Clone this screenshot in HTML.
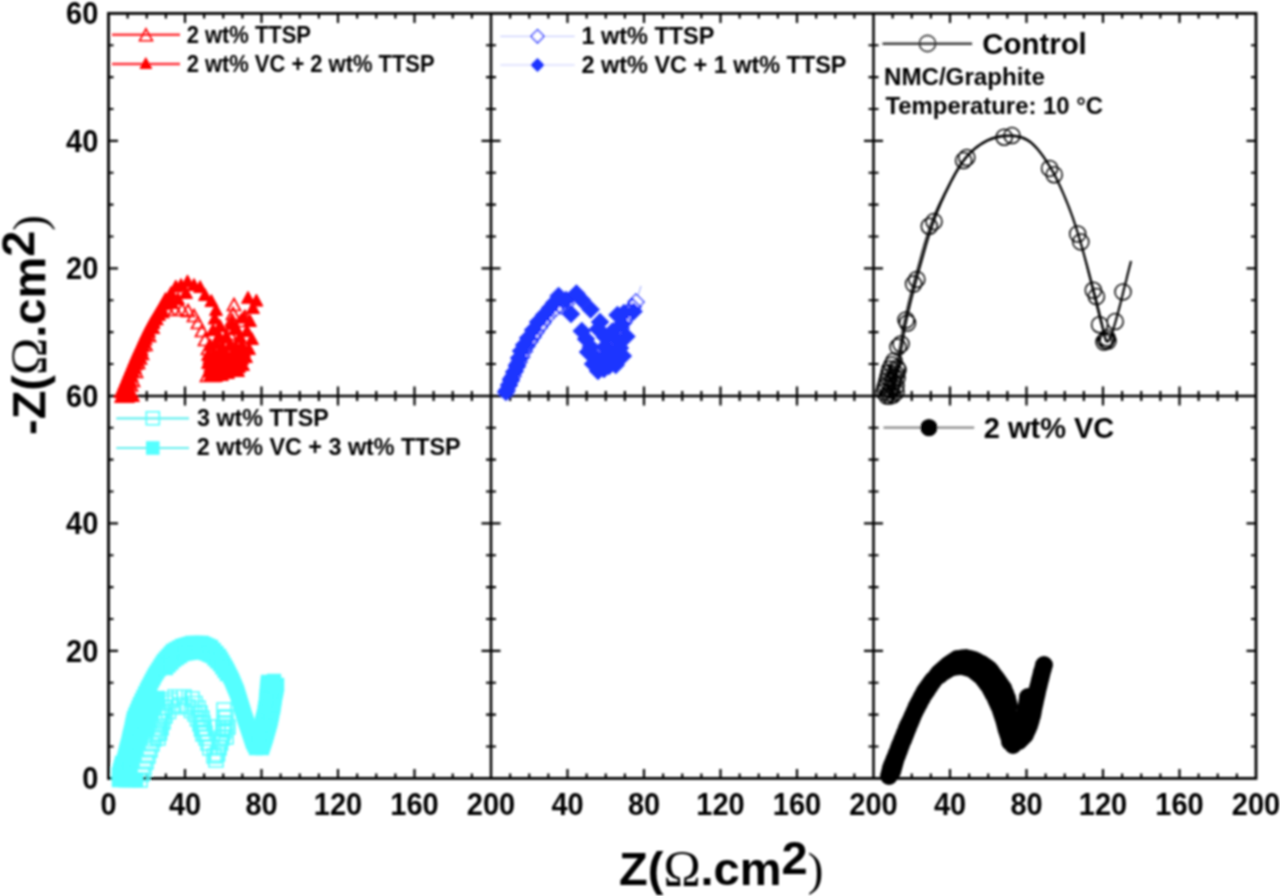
<!DOCTYPE html>
<html><head><meta charset="utf-8"><title>Nyquist plots</title>
<style>
html,body{margin:0;padding:0;background:#fff;width:1280px;height:896px;overflow:hidden}
svg{display:block}
text{font-family:"Liberation Sans",Arial,sans-serif;font-weight:bold;fill:#000}
.tl text{font-size:30.5px}
.sf{font-family:"Liberation Serif","Times New Roman",serif;font-weight:normal}
</style></head><body>
<svg width="1280" height="896" viewBox="0 0 1280 896">
<defs><filter id="bl" x="0" y="0" width="1280" height="896" filterUnits="userSpaceOnUse"><feGaussianBlur stdDeviation="0.8"/></filter></defs>
<rect width="1280" height="896" fill="#fff"/>
<g filter="url(#bl)">
<g><rect x="108.5" y="13.4" width="1147.5" height="765.0" fill="none" stroke="#000" stroke-width="2.8"/><line x1="491.0" y1="13.4" x2="491.0" y2="778.4" stroke="#000" stroke-width="2.5"/><line x1="873.5" y1="13.4" x2="873.5" y2="778.4" stroke="#000" stroke-width="2.5"/><line x1="108.5" y1="395.9" x2="1256.0" y2="395.9" stroke="#000" stroke-width="2.5"/><path d="M127.62,395.90v-5.0M127.62,13.40v5.0M146.75,395.90v-5.0M146.75,13.40v5.0M165.88,395.90v-5.0M165.88,13.40v5.0M185.00,395.90v-9.5M185.00,13.40v9.5M204.12,395.90v-5.0M204.12,13.40v5.0M223.25,395.90v-5.0M223.25,13.40v5.0M242.38,395.90v-5.0M242.38,13.40v5.0M261.50,395.90v-9.5M261.50,13.40v9.5M280.62,395.90v-5.0M280.62,13.40v5.0M299.75,395.90v-5.0M299.75,13.40v5.0M318.88,395.90v-5.0M318.88,13.40v5.0M338.00,395.90v-9.5M338.00,13.40v9.5M357.12,395.90v-5.0M357.12,13.40v5.0M376.25,395.90v-5.0M376.25,13.40v5.0M395.38,395.90v-5.0M395.38,13.40v5.0M414.50,395.90v-9.5M414.50,13.40v9.5M433.62,395.90v-5.0M433.62,13.40v5.0M452.75,395.90v-5.0M452.75,13.40v5.0M471.88,395.90v-5.0M471.88,13.40v5.0M108.50,364.02h5.0M491.00,364.02h-5.0M108.50,332.15h5.0M491.00,332.15h-5.0M108.50,300.27h5.0M491.00,300.27h-5.0M108.50,268.40h9.5M491.00,268.40h-9.5M108.50,236.52h5.0M491.00,236.52h-5.0M108.50,204.65h5.0M491.00,204.65h-5.0M108.50,172.77h5.0M491.00,172.77h-5.0M108.50,140.90h9.5M491.00,140.90h-9.5M108.50,109.02h5.0M491.00,109.02h-5.0M108.50,77.15h5.0M491.00,77.15h-5.0M108.50,45.27h5.0M491.00,45.27h-5.0M127.62,778.40v-5.0M127.62,395.90v5.0M146.75,778.40v-5.0M146.75,395.90v5.0M165.88,778.40v-5.0M165.88,395.90v5.0M185.00,778.40v-9.5M185.00,395.90v9.5M204.12,778.40v-5.0M204.12,395.90v5.0M223.25,778.40v-5.0M223.25,395.90v5.0M242.38,778.40v-5.0M242.38,395.90v5.0M261.50,778.40v-9.5M261.50,395.90v9.5M280.62,778.40v-5.0M280.62,395.90v5.0M299.75,778.40v-5.0M299.75,395.90v5.0M318.88,778.40v-5.0M318.88,395.90v5.0M338.00,778.40v-9.5M338.00,395.90v9.5M357.12,778.40v-5.0M357.12,395.90v5.0M376.25,778.40v-5.0M376.25,395.90v5.0M395.38,778.40v-5.0M395.38,395.90v5.0M414.50,778.40v-9.5M414.50,395.90v9.5M433.62,778.40v-5.0M433.62,395.90v5.0M452.75,778.40v-5.0M452.75,395.90v5.0M471.88,778.40v-5.0M471.88,395.90v5.0M108.50,746.52h5.0M491.00,746.52h-5.0M108.50,714.65h5.0M491.00,714.65h-5.0M108.50,682.77h5.0M491.00,682.77h-5.0M108.50,650.90h9.5M491.00,650.90h-9.5M108.50,619.02h5.0M491.00,619.02h-5.0M108.50,587.15h5.0M491.00,587.15h-5.0M108.50,555.27h5.0M491.00,555.27h-5.0M108.50,523.40h9.5M491.00,523.40h-9.5M108.50,491.52h5.0M491.00,491.52h-5.0M108.50,459.65h5.0M491.00,459.65h-5.0M108.50,427.77h5.0M491.00,427.77h-5.0M510.12,395.90v-5.0M510.12,13.40v5.0M529.25,395.90v-5.0M529.25,13.40v5.0M548.38,395.90v-5.0M548.38,13.40v5.0M567.50,395.90v-9.5M567.50,13.40v9.5M586.62,395.90v-5.0M586.62,13.40v5.0M605.75,395.90v-5.0M605.75,13.40v5.0M624.88,395.90v-5.0M624.88,13.40v5.0M644.00,395.90v-9.5M644.00,13.40v9.5M663.12,395.90v-5.0M663.12,13.40v5.0M682.25,395.90v-5.0M682.25,13.40v5.0M701.38,395.90v-5.0M701.38,13.40v5.0M720.50,395.90v-9.5M720.50,13.40v9.5M739.62,395.90v-5.0M739.62,13.40v5.0M758.75,395.90v-5.0M758.75,13.40v5.0M777.88,395.90v-5.0M777.88,13.40v5.0M797.00,395.90v-9.5M797.00,13.40v9.5M816.12,395.90v-5.0M816.12,13.40v5.0M835.25,395.90v-5.0M835.25,13.40v5.0M854.38,395.90v-5.0M854.38,13.40v5.0M491.00,364.02h5.0M873.50,364.02h-5.0M491.00,332.15h5.0M873.50,332.15h-5.0M491.00,300.27h5.0M873.50,300.27h-5.0M491.00,268.40h9.5M873.50,268.40h-9.5M491.00,236.52h5.0M873.50,236.52h-5.0M491.00,204.65h5.0M873.50,204.65h-5.0M491.00,172.77h5.0M873.50,172.77h-5.0M491.00,140.90h9.5M873.50,140.90h-9.5M491.00,109.02h5.0M873.50,109.02h-5.0M491.00,77.15h5.0M873.50,77.15h-5.0M491.00,45.27h5.0M873.50,45.27h-5.0M510.12,778.40v-5.0M510.12,395.90v5.0M529.25,778.40v-5.0M529.25,395.90v5.0M548.38,778.40v-5.0M548.38,395.90v5.0M567.50,778.40v-9.5M567.50,395.90v9.5M586.62,778.40v-5.0M586.62,395.90v5.0M605.75,778.40v-5.0M605.75,395.90v5.0M624.88,778.40v-5.0M624.88,395.90v5.0M644.00,778.40v-9.5M644.00,395.90v9.5M663.12,778.40v-5.0M663.12,395.90v5.0M682.25,778.40v-5.0M682.25,395.90v5.0M701.38,778.40v-5.0M701.38,395.90v5.0M720.50,778.40v-9.5M720.50,395.90v9.5M739.62,778.40v-5.0M739.62,395.90v5.0M758.75,778.40v-5.0M758.75,395.90v5.0M777.88,778.40v-5.0M777.88,395.90v5.0M797.00,778.40v-9.5M797.00,395.90v9.5M816.12,778.40v-5.0M816.12,395.90v5.0M835.25,778.40v-5.0M835.25,395.90v5.0M854.38,778.40v-5.0M854.38,395.90v5.0M491.00,746.52h5.0M873.50,746.52h-5.0M491.00,714.65h5.0M873.50,714.65h-5.0M491.00,682.77h5.0M873.50,682.77h-5.0M491.00,650.90h9.5M873.50,650.90h-9.5M491.00,619.02h5.0M873.50,619.02h-5.0M491.00,587.15h5.0M873.50,587.15h-5.0M491.00,555.27h5.0M873.50,555.27h-5.0M491.00,523.40h9.5M873.50,523.40h-9.5M491.00,491.52h5.0M873.50,491.52h-5.0M491.00,459.65h5.0M873.50,459.65h-5.0M491.00,427.77h5.0M873.50,427.77h-5.0M892.62,395.90v-5.0M892.62,13.40v5.0M911.75,395.90v-5.0M911.75,13.40v5.0M930.88,395.90v-5.0M930.88,13.40v5.0M950.00,395.90v-9.5M950.00,13.40v9.5M969.12,395.90v-5.0M969.12,13.40v5.0M988.25,395.90v-5.0M988.25,13.40v5.0M1007.38,395.90v-5.0M1007.38,13.40v5.0M1026.50,395.90v-9.5M1026.50,13.40v9.5M1045.62,395.90v-5.0M1045.62,13.40v5.0M1064.75,395.90v-5.0M1064.75,13.40v5.0M1083.88,395.90v-5.0M1083.88,13.40v5.0M1103.00,395.90v-9.5M1103.00,13.40v9.5M1122.12,395.90v-5.0M1122.12,13.40v5.0M1141.25,395.90v-5.0M1141.25,13.40v5.0M1160.38,395.90v-5.0M1160.38,13.40v5.0M1179.50,395.90v-9.5M1179.50,13.40v9.5M1198.62,395.90v-5.0M1198.62,13.40v5.0M1217.75,395.90v-5.0M1217.75,13.40v5.0M1236.88,395.90v-5.0M1236.88,13.40v5.0M873.50,364.02h5.0M1256.00,364.02h-5.0M873.50,332.15h5.0M1256.00,332.15h-5.0M873.50,300.27h5.0M1256.00,300.27h-5.0M873.50,268.40h9.5M1256.00,268.40h-9.5M873.50,236.52h5.0M1256.00,236.52h-5.0M873.50,204.65h5.0M1256.00,204.65h-5.0M873.50,172.77h5.0M1256.00,172.77h-5.0M873.50,140.90h9.5M1256.00,140.90h-9.5M873.50,109.02h5.0M1256.00,109.02h-5.0M873.50,77.15h5.0M1256.00,77.15h-5.0M873.50,45.27h5.0M1256.00,45.27h-5.0M892.62,778.40v-5.0M892.62,395.90v5.0M911.75,778.40v-5.0M911.75,395.90v5.0M930.88,778.40v-5.0M930.88,395.90v5.0M950.00,778.40v-9.5M950.00,395.90v9.5M969.12,778.40v-5.0M969.12,395.90v5.0M988.25,778.40v-5.0M988.25,395.90v5.0M1007.38,778.40v-5.0M1007.38,395.90v5.0M1026.50,778.40v-9.5M1026.50,395.90v9.5M1045.62,778.40v-5.0M1045.62,395.90v5.0M1064.75,778.40v-5.0M1064.75,395.90v5.0M1083.88,778.40v-5.0M1083.88,395.90v5.0M1103.00,778.40v-9.5M1103.00,395.90v9.5M1122.12,778.40v-5.0M1122.12,395.90v5.0M1141.25,778.40v-5.0M1141.25,395.90v5.0M1160.38,778.40v-5.0M1160.38,395.90v5.0M1179.50,778.40v-9.5M1179.50,395.90v9.5M1198.62,778.40v-5.0M1198.62,395.90v5.0M1217.75,778.40v-5.0M1217.75,395.90v5.0M1236.88,778.40v-5.0M1236.88,395.90v5.0M873.50,746.52h5.0M1256.00,746.52h-5.0M873.50,714.65h5.0M1256.00,714.65h-5.0M873.50,682.77h5.0M1256.00,682.77h-5.0M873.50,650.90h9.5M1256.00,650.90h-9.5M873.50,619.02h5.0M1256.00,619.02h-5.0M873.50,587.15h5.0M1256.00,587.15h-5.0M873.50,555.27h5.0M1256.00,555.27h-5.0M873.50,523.40h9.5M1256.00,523.40h-9.5M873.50,491.52h5.0M1256.00,491.52h-5.0M873.50,459.65h5.0M1256.00,459.65h-5.0M873.50,427.77h5.0M1256.00,427.77h-5.0" stroke="#000" stroke-width="2.2" fill="none"/></g>
<g><path d="M129.0,383.5L135.5,395.5L122.5,395.5ZM131.0,379.0L137.5,391.0L124.5,391.0ZM133.0,374.5L139.5,386.5L126.5,386.5ZM136.0,365.5L142.5,377.5L129.5,377.5ZM138.0,356.5L144.5,368.5L131.5,368.5ZM140.0,352.0L146.5,364.0L133.5,364.0ZM142.0,347.5L148.5,359.5L135.5,359.5ZM145.5,338.5L152.0,350.5L139.0,350.5ZM149.0,329.5L155.5,341.5L142.5,341.5ZM152.5,321.1L159.0,333.1L146.0,333.1ZM156.0,312.5L162.5,324.5L149.5,324.5ZM162.0,305.5L168.5,317.5L155.5,317.5ZM168.0,303.5L174.5,315.5L161.5,315.5ZM175.0,303.5L181.5,315.5L168.5,315.5ZM182.0,303.5L188.5,315.5L175.5,315.5ZM188.0,304.5L194.5,316.5L181.5,316.5ZM194.0,309.5L200.5,321.5L187.5,321.5ZM198.0,316.5L204.5,328.5L191.5,328.5ZM202.0,324.5L208.5,336.5L195.5,336.5ZM205.0,333.5L211.5,345.5L198.5,345.5ZM208.0,342.5L214.5,354.5L201.5,354.5ZM210.0,351.5L216.5,363.5L203.5,363.5ZM211.0,359.5L217.5,371.5L204.5,371.5ZM212.0,364.5L218.5,376.5L205.5,376.5ZM213.0,369.5L219.5,381.5L206.5,381.5ZM207.0,369.5L213.5,381.5L200.5,381.5ZM213.0,367.5L219.5,379.5L206.5,379.5ZM219.0,360.5L225.5,372.5L212.5,372.5ZM221.5,354.0L228.0,366.0L215.0,366.0ZM224.0,347.5L230.5,359.5L217.5,359.5ZM226.0,341.0L232.5,353.0L219.5,353.0ZM228.0,334.5L234.5,346.5L221.5,346.5ZM229.5,327.5L236.0,339.5L223.0,339.5ZM231.0,320.5L237.5,332.5L224.5,332.5ZM232.0,314.0L238.5,326.0L225.5,326.0ZM233.0,307.5L239.5,319.5L226.5,319.5ZM234.0,298.5L240.5,310.5L227.5,310.5ZM236.0,322.5L242.5,334.5L229.5,334.5ZM241.0,314.5L247.5,326.5L234.5,326.5ZM245.0,310.5L251.5,322.5L238.5,322.5Z" fill="none" stroke="#ff0000" stroke-width="1.7" stroke-linejoin="miter" /><path d="M121.0,385.5L127.5,397.5L114.5,397.5ZM122.7,381.5L129.2,393.5L116.2,393.5ZM124.3,377.5L130.8,389.5L117.8,389.5ZM126.0,373.5L132.5,385.5L119.5,385.5ZM127.7,369.5L134.2,381.5L121.2,381.5ZM129.3,365.5L135.8,377.5L122.8,377.5ZM131.0,361.5L137.5,373.5L124.5,373.5ZM132.7,357.5L139.2,369.5L126.2,369.5ZM134.3,353.5L140.8,365.5L127.8,365.5ZM136.0,349.5L142.5,361.5L129.5,361.5ZM137.7,345.8L144.2,357.8L131.2,357.8ZM139.3,342.2L145.8,354.2L132.8,354.2ZM141.0,338.5L147.5,350.5L134.5,350.5ZM142.7,334.8L149.2,346.8L136.2,346.8ZM144.3,331.2L150.8,343.2L137.8,343.2ZM146.0,327.5L152.5,339.5L139.5,339.5ZM147.7,324.2L154.2,336.2L141.2,336.2ZM149.3,320.8L155.8,332.8L142.8,332.8ZM151.0,317.5L157.5,329.5L144.5,329.5ZM153.0,314.2L159.5,326.2L146.5,326.2ZM155.0,310.8L161.5,322.8L148.5,322.8ZM157.0,307.5L163.5,319.5L150.5,319.5ZM159.0,304.2L165.5,316.2L152.5,316.2ZM161.0,300.8L167.5,312.8L154.5,312.8ZM163.0,297.5L169.5,309.5L156.5,309.5ZM166.0,294.0L172.5,306.0L159.5,306.0ZM169.0,290.5L175.5,302.5L162.5,302.5ZM126.0,385.5L132.5,397.5L119.5,397.5ZM127.3,381.5L133.8,393.5L120.8,393.5ZM128.7,377.5L135.2,389.5L122.2,389.5ZM130.0,373.5L136.5,385.5L123.5,385.5ZM131.7,369.5L138.2,381.5L125.2,381.5ZM133.3,365.5L139.8,377.5L126.8,377.5ZM135.0,361.5L141.5,373.5L128.5,373.5ZM136.3,357.8L142.8,369.8L129.8,369.8ZM137.7,354.2L144.2,366.2L131.2,366.2ZM139.0,350.5L145.5,362.5L132.5,362.5ZM140.3,346.8L146.8,358.8L133.8,358.8ZM141.7,343.2L148.2,355.2L135.2,355.2ZM143.0,339.5L149.5,351.5L136.5,351.5ZM144.3,336.2L150.8,348.2L137.8,348.2ZM145.7,332.8L152.2,344.8L139.2,344.8ZM147.0,329.5L153.5,341.5L140.5,341.5ZM149.0,325.0L155.5,337.0L142.5,337.0ZM151.0,320.5L157.5,332.5L144.5,332.5ZM153.5,316.5L160.0,328.5L147.0,328.5ZM156.0,312.5L162.5,324.5L149.5,324.5ZM159.0,308.5L165.5,320.5L152.5,320.5ZM162.0,304.5L168.5,316.5L155.5,316.5Z" fill="#ff0000" stroke="#ff0000" stroke-width="1.0" stroke-linejoin="miter" /><path d="M121.0,390.5L127.5,402.5L114.5,402.5ZM128.0,390.5L134.5,402.5L121.5,402.5ZM133.0,389.5L139.5,401.5L126.5,401.5ZM165.5,292.5L172.0,304.5L159.0,304.5ZM171.0,286.5L177.5,298.5L164.5,298.5ZM175.8,280.0L182.3,292.0L169.3,292.0ZM181.0,278.5L187.5,290.5L174.5,290.5ZM187.5,274.9L194.0,286.9L181.0,286.9ZM194.0,278.5L200.5,290.5L187.5,290.5ZM200.1,280.5L206.6,292.5L193.6,292.5ZM205.0,288.5L211.5,300.5L198.5,300.5ZM211.4,294.5L217.9,306.5L204.9,306.5ZM216.0,303.5L222.5,315.5L209.5,315.5ZM214.7,312.0L221.2,324.0L208.2,324.0ZM220.0,319.5L226.5,331.5L213.5,331.5ZM172.0,296.5L178.5,308.5L165.5,308.5ZM178.0,292.5L184.5,304.5L171.5,304.5ZM186.0,286.5L192.5,298.5L179.5,298.5ZM248.0,291.3L254.5,303.3L241.5,303.3ZM256.4,294.1L262.9,306.1L249.9,306.1ZM253.0,301.5L259.5,313.5L246.5,313.5ZM243.7,311.0L250.2,323.0L237.2,323.0ZM250.0,314.5L256.5,326.5L243.5,326.5ZM247.0,324.5L253.5,336.5L240.5,336.5ZM252.0,332.5L258.5,344.5L245.5,344.5ZM249.0,342.5L255.5,354.5L242.5,354.5ZM246.0,350.5L252.5,362.5L239.5,362.5ZM243.0,358.5L249.5,370.5L236.5,370.5ZM238.0,364.5L244.5,376.5L231.5,376.5ZM232.0,316.5L238.5,328.5L225.5,328.5ZM236.0,322.5L242.5,334.5L229.5,334.5ZM226.0,330.5L232.5,342.5L219.5,342.5ZM240.0,330.5L246.5,342.5L233.5,342.5ZM210.0,338.5L216.5,350.5L203.5,350.5ZM216.0,336.5L222.5,348.5L209.5,348.5ZM222.0,340.5L228.5,352.5L215.5,352.5ZM230.0,338.5L236.5,350.5L223.5,350.5ZM236.0,340.5L242.5,352.5L229.5,352.5ZM242.0,338.5L248.5,350.5L235.5,350.5ZM208.0,348.5L214.5,360.5L201.5,360.5ZM214.0,346.5L220.5,358.5L207.5,358.5ZM220.0,349.5L226.5,361.5L213.5,361.5ZM226.0,347.5L232.5,359.5L219.5,359.5ZM232.0,348.5L238.5,360.5L225.5,360.5ZM238.0,346.5L244.5,358.5L231.5,358.5ZM244.0,344.5L250.5,356.5L237.5,356.5ZM208.0,356.5L214.5,368.5L201.5,368.5ZM214.0,354.5L220.5,366.5L207.5,366.5ZM220.0,357.5L226.5,369.5L213.5,369.5ZM226.0,354.5L232.5,366.5L219.5,366.5ZM232.0,356.5L238.5,368.5L225.5,368.5ZM238.0,354.5L244.5,366.5L231.5,366.5ZM242.0,352.5L248.5,364.5L235.5,364.5ZM209.0,364.5L215.5,376.5L202.5,376.5ZM215.0,363.5L221.5,375.5L208.5,375.5ZM221.0,365.5L227.5,377.5L214.5,377.5ZM227.0,361.5L233.5,373.5L220.5,373.5ZM233.0,362.5L239.5,374.5L226.5,374.5ZM239.0,360.5L245.5,372.5L232.5,372.5ZM210.0,369.5L216.5,381.5L203.5,381.5ZM216.0,369.5L222.5,381.5L209.5,381.5ZM222.0,368.5L228.5,380.5L215.5,380.5ZM228.0,366.5L234.5,378.5L221.5,378.5ZM234.0,364.5L240.5,376.5L227.5,376.5ZM213.0,323.5L219.5,335.5L206.5,335.5ZM219.0,329.5L225.5,341.5L212.5,341.5Z" fill="#ff0000" stroke="#ff0000" stroke-width="1"/><polyline points="636,302 641,286" fill="none" stroke="#a8b2ff" stroke-width="1.2"/><path d="M507.0,382.0L515.0,390.0L507.0,398.0L499.0,390.0ZM509.0,377.3L517.0,385.3L509.0,393.3L501.0,385.3ZM511.0,372.7L519.0,380.7L511.0,388.7L503.0,380.7ZM513.0,368.0L521.0,376.0L513.0,384.0L505.0,376.0ZM515.0,363.3L523.0,371.3L515.0,379.3L507.0,371.3ZM517.0,358.7L525.0,366.7L517.0,374.7L509.0,366.7ZM519.0,354.0L527.0,362.0L519.0,370.0L511.0,362.0ZM521.7,348.7L529.7,356.7L521.7,364.7L513.7,356.7ZM524.3,343.3L532.3,351.3L524.3,359.3L516.3,351.3ZM527.0,338.0L535.0,346.0L527.0,354.0L519.0,346.0ZM530.0,333.3L538.0,341.3L530.0,349.3L522.0,341.3ZM533.0,328.7L541.0,336.7L533.0,344.7L525.0,336.7ZM536.0,324.0L544.0,332.0L536.0,340.0L528.0,332.0ZM539.3,319.3L547.3,327.3L539.3,335.3L531.3,327.3ZM542.7,314.7L550.7,322.7L542.7,330.7L534.7,322.7ZM546.0,310.0L554.0,318.0L546.0,326.0L538.0,318.0ZM551.0,305.0L559.0,313.0L551.0,321.0L543.0,313.0ZM556.0,300.0L564.0,308.0L556.0,316.0L548.0,308.0ZM561.0,298.0L569.0,306.0L561.0,314.0L553.0,306.0ZM566.0,296.0L574.0,304.0L566.0,312.0L558.0,304.0ZM600.0,350.0L608.0,358.0L600.0,366.0L592.0,358.0ZM606.0,348.0L614.0,356.0L606.0,364.0L598.0,356.0ZM609.0,343.0L617.0,351.0L609.0,359.0L601.0,351.0ZM612.0,338.0L620.0,346.0L612.0,354.0L604.0,346.0ZM615.0,332.0L623.0,340.0L615.0,348.0L607.0,340.0ZM618.0,326.0L626.0,334.0L618.0,342.0L610.0,334.0ZM621.0,320.0L629.0,328.0L621.0,336.0L613.0,328.0ZM624.0,314.0L632.0,322.0L624.0,330.0L616.0,322.0ZM627.0,309.0L635.0,317.0L627.0,325.0L619.0,317.0ZM630.0,304.0L638.0,312.0L630.0,320.0L622.0,312.0ZM633.0,299.0L641.0,307.0L633.0,315.0L625.0,307.0ZM636.0,294.0L644.0,302.0L636.0,310.0L628.0,302.0Z" fill="white" stroke="#1f34ff" stroke-width="1.5" stroke-linejoin="miter" /><path d="M506.0,383.0L515.0,392.0L506.0,401.0L497.0,392.0ZM509.0,376.0L518.0,385.0L509.0,394.0L500.0,385.0ZM511.0,370.0L520.0,379.0L511.0,388.0L502.0,379.0ZM514.0,363.0L523.0,372.0L514.0,381.0L505.0,372.0ZM517.0,356.0L526.0,365.0L517.0,374.0L508.0,365.0ZM519.0,349.0L528.0,358.0L519.0,367.0L510.0,358.0ZM521.0,342.0L530.0,351.0L521.0,360.0L512.0,351.0ZM524.0,336.0L533.0,345.0L524.0,354.0L515.0,345.0ZM528.0,329.0L537.0,338.0L528.0,347.0L519.0,338.0ZM533.0,321.0L542.0,330.0L533.0,339.0L524.0,330.0ZM538.0,313.0L547.0,322.0L538.0,331.0L529.0,322.0ZM544.0,306.0L553.0,315.0L544.0,324.0L535.0,315.0ZM550.0,299.0L559.0,308.0L550.0,317.0L541.0,308.0ZM554.0,294.0L563.0,303.0L554.0,312.0L545.0,303.0ZM558.6,287.0L567.6,296.0L558.6,305.0L549.6,296.0ZM566.0,291.0L575.0,300.0L566.0,309.0L557.0,300.0ZM571.0,305.0L580.0,314.0L571.0,323.0L562.0,314.0ZM576.4,284.6L585.4,293.6L576.4,302.6L567.4,293.6ZM582.0,291.0L591.0,300.0L582.0,309.0L573.0,300.0ZM590.7,300.6L599.7,309.6L590.7,318.6L581.7,309.6ZM600.0,313.0L609.0,322.0L600.0,331.0L591.0,322.0ZM581.8,322.0L590.8,331.0L581.8,340.0L572.8,331.0ZM586.0,330.0L595.0,339.0L586.0,348.0L577.0,339.0ZM590.7,338.0L599.7,347.0L590.7,356.0L581.7,347.0ZM594.0,347.0L603.0,356.0L594.0,365.0L585.0,356.0ZM597.9,356.0L606.9,365.0L597.9,374.0L588.9,365.0ZM598.0,362.0L607.0,371.0L598.0,380.0L589.0,371.0ZM604.0,360.0L613.0,369.0L604.0,378.0L595.0,369.0ZM609.0,357.0L618.0,366.0L609.0,375.0L600.0,366.0ZM604.7,338.0L613.7,347.0L604.7,356.0L595.7,347.0ZM598.0,320.0L607.0,329.0L598.0,338.0L589.0,329.0ZM605.0,328.0L614.0,337.0L605.0,346.0L596.0,337.0ZM612.5,322.4L621.5,331.4L612.5,340.4L603.5,331.4ZM617.0,331.0L626.0,340.0L617.0,349.0L608.0,340.0ZM620.0,339.0L629.0,348.0L620.0,357.0L611.0,348.0ZM615.7,356.0L624.7,365.0L615.7,374.0L606.7,365.0ZM622.9,347.0L631.9,356.0L622.9,365.0L613.9,356.0ZM626.4,327.4L635.4,336.4L626.4,345.4L617.4,336.4ZM617.5,306.0L626.5,315.0L617.5,324.0L608.5,315.0ZM624.0,304.0L633.0,313.0L624.0,322.0L615.0,313.0ZM633.6,302.4L642.6,311.4L633.6,320.4L624.6,311.4ZM622.0,315.0L631.0,324.0L622.0,333.0L613.0,324.0ZM611.0,347.0L620.0,356.0L611.0,365.0L602.0,356.0ZM603.0,349.0L612.0,358.0L603.0,367.0L594.0,358.0ZM593.0,355.0L602.0,364.0L593.0,373.0L584.0,364.0ZM588.0,343.0L597.0,352.0L588.0,361.0L579.0,352.0Z" fill="#1f34ff" stroke="#1f34ff" stroke-width="0.5"/><polyline points="892.0,397.0 892.3,395.7 892.7,394.0 893.3,391.9 893.8,389.6 894.4,387.2 895.0,384.7 895.5,382.3 896.0,380.0 896.4,377.8 896.8,375.5 897.2,373.3 897.6,371.0 897.9,368.7 898.3,366.5 898.6,364.2 899.0,362.0 899.4,359.9 899.7,357.8 900.1,355.8 900.4,353.8 900.8,351.8 901.2,349.6 901.6,347.4 902.0,345.0 902.4,342.5 902.8,340.1 903.2,337.6 903.6,335.0 904.0,332.2 904.6,329.2 905.2,325.8 906.0,322.0 906.9,317.8 907.9,313.3 909.0,308.6 910.2,303.5 911.5,298.2 912.9,292.7 914.4,286.9 916.0,281.0 917.7,274.7 919.6,267.8 921.6,260.6 923.7,253.2 925.8,245.8 927.9,238.7 930.0,232.1 932.0,226.0 933.9,220.6 935.8,215.5 937.6,210.9 939.4,206.5 941.2,202.3 943.1,198.2 945.0,194.1 947.0,190.0 949.1,185.8 951.2,181.6 953.4,177.4 955.7,173.3 958.0,169.4 960.3,165.6 962.6,162.2 965.0,159.0 967.4,156.1 969.8,153.5 972.2,151.1 974.7,148.9 977.2,147.0 979.7,145.1 982.3,143.5 985.0,142.0 987.7,140.6 990.6,139.4 993.4,138.4 996.4,137.6 999.3,136.9 1002.2,136.4 1005.2,136.1 1008.0,136.0 1010.8,136.0 1013.6,136.2 1016.4,136.5 1019.2,137.1 1021.9,137.8 1024.7,138.9 1027.4,140.3 1030.0,142.0 1032.6,144.2 1035.2,146.7 1037.8,149.6 1040.4,152.8 1042.9,156.2 1045.3,159.7 1047.7,163.4 1050.0,167.0 1052.2,170.7 1054.4,174.6 1056.4,178.6 1058.4,182.8 1060.4,187.0 1062.3,191.3 1064.2,195.6 1066.0,200.0 1067.8,204.3 1069.4,208.5 1071.0,212.8 1072.6,217.1 1074.1,221.6 1075.7,226.4 1077.3,231.5 1079.0,237.0 1080.8,243.2 1082.8,250.1 1084.8,257.5 1086.9,265.1 1088.9,272.6 1090.8,279.7 1092.5,286.3 1094.0,292.0 1095.3,296.8 1096.4,301.1 1097.3,304.8 1098.1,308.2 1098.9,311.3 1099.6,314.2 1100.3,317.1 1101.0,320.0 1101.7,323.0 1102.4,326.1 1103.1,329.1 1103.7,331.9 1104.3,334.5 1104.9,336.7 1105.4,338.6 1106.0,340.0 1106.5,340.9 1107.0,341.4 1107.5,341.6 1107.9,341.4 1108.4,340.9 1108.9,340.1 1109.4,339.2 1110.0,338.0 1110.6,336.6 1111.3,334.8 1112.1,332.8 1112.8,330.6 1113.6,328.1 1114.4,325.5 1115.2,322.8 1116.0,320.0 1116.8,317.1 1117.7,314.0 1118.5,310.8 1119.4,307.4 1120.3,303.9 1121.2,300.3 1122.1,296.7 1123.0,293.0 1124.0,289.0 1125.1,284.6 1126.3,280.0 1127.4,275.3 1128.5,270.9 1129.5,266.9 1130.4,263.5 1131.0,261.0" fill="none" stroke="#000" stroke-width="2.2" stroke-linejoin="round"/><polyline points="890.0,397.0 890.3,395.7 890.7,394.0 891.3,391.9 891.8,389.6 892.4,387.2 893.0,384.7 893.5,382.3 894.0,380.0 894.4,377.8 894.8,375.5 895.2,373.3 895.6,371.0 895.9,368.7 896.3,366.5 896.6,364.2 897.0,362.0 897.4,359.9 897.7,357.8 898.1,355.8 898.4,353.8 898.8,351.8 899.2,349.6 899.6,347.4 900.0,345.0 900.4,342.5 900.8,340.1 901.2,337.6 901.6,335.0 902.0,332.2 902.6,329.2 903.2,325.8 904.0,322.0 904.9,317.8 905.9,313.3 907.0,308.6 908.2,303.5 909.5,298.2 910.9,292.7 912.4,286.9 914.0,281.0 915.7,274.7 917.6,267.8 919.6,260.6 921.6,253.2 923.7,245.8 925.9,238.7 928.0,232.1 930.0,226.0 932.0,220.6 934.0,215.5 935.9,210.9 937.9,206.5 939.9,202.3 941.9,198.2 943.9,194.1 946.0,190.0 948.1,185.8 950.3,181.6 952.5,177.4 954.7,173.4 956.9,169.5 959.2,165.7 961.6,162.2 964.0,159.0 966.5,156.0 969.0,153.3 971.6,150.8 974.2,148.4 976.8,146.3 979.5,144.4 982.3,142.6 985.0,141.0 987.8,139.6 990.6,138.4 993.5,137.3 996.4,136.5 999.4,135.8 1002.3,135.4 1005.2,135.1 1008.0,135.0 1010.8,135.0 1013.6,135.2 1016.4,135.5 1019.2,136.1 1021.9,136.8 1024.7,137.9 1027.4,139.3 1030.0,141.0 1032.6,143.2 1035.2,145.7 1037.8,148.6 1040.4,151.8 1042.9,155.1 1045.3,158.7 1047.7,162.3 1050.0,166.0 1052.2,169.8 1054.4,173.8 1056.4,178.0 1058.4,182.2 1060.4,186.6 1062.3,191.1 1064.2,195.5 1066.0,200.0 1067.8,204.4 1069.4,208.6 1071.1,212.9 1072.6,217.2 1074.2,221.7 1075.8,226.4 1077.3,231.5 1079.0,237.0 1080.8,243.2 1082.6,250.1 1084.5,257.5 1086.4,265.1 1088.2,272.6 1090.0,279.7 1091.6,286.3 1093.0,292.0 1094.2,296.8 1095.3,301.0 1096.2,304.7 1097.0,308.1 1097.8,311.1 1098.5,314.1 1099.2,317.0 1100.0,320.0 1100.8,323.2 1101.7,326.4 1102.6,329.7 1103.4,332.8 1104.2,335.6 1104.9,338.2 1105.5,340.3 1106.0,342.0" fill="none" stroke="#000" stroke-width="1.2" stroke-linejoin="round"/><path d="M879.0,396.0a8,8 0 1,0 16,0a8,8 0 1,0 -16,0ZM882.0,396.0a8,8 0 1,0 16,0a8,8 0 1,0 -16,0ZM885.0,395.0a8,8 0 1,0 16,0a8,8 0 1,0 -16,0ZM881.0,393.0a8,8 0 1,0 16,0a8,8 0 1,0 -16,0ZM888.0,392.0a8,8 0 1,0 16,0a8,8 0 1,0 -16,0ZM876.0,392.0a8,8 0 1,0 16,0a8,8 0 1,0 -16,0ZM877.0,388.0a8,8 0 1,0 16,0a8,8 0 1,0 -16,0ZM878.0,385.0a8,8 0 1,0 16,0a8,8 0 1,0 -16,0ZM879.0,381.0a8,8 0 1,0 16,0a8,8 0 1,0 -16,0ZM880.0,377.0a8,8 0 1,0 16,0a8,8 0 1,0 -16,0ZM881.0,373.0a8,8 0 1,0 16,0a8,8 0 1,0 -16,0ZM882.0,369.0a8,8 0 1,0 16,0a8,8 0 1,0 -16,0ZM884.0,365.0a8,8 0 1,0 16,0a8,8 0 1,0 -16,0ZM886.0,361.0a8,8 0 1,0 16,0a8,8 0 1,0 -16,0ZM883.0,390.0a8,8 0 1,0 16,0a8,8 0 1,0 -16,0ZM884.0,386.0a8,8 0 1,0 16,0a8,8 0 1,0 -16,0ZM885.0,382.0a8,8 0 1,0 16,0a8,8 0 1,0 -16,0ZM886.0,378.0a8,8 0 1,0 16,0a8,8 0 1,0 -16,0ZM888.0,374.0a8,8 0 1,0 16,0a8,8 0 1,0 -16,0ZM889.0,368.0a8,8 0 1,0 16,0a8,8 0 1,0 -16,0ZM893.0,344.0a8,8 0 1,0 16,0a8,8 0 1,0 -16,0ZM890.0,347.0a8,8 0 1,0 16,0a8,8 0 1,0 -16,0ZM898.0,320.0a8,8 0 1,0 16,0a8,8 0 1,0 -16,0ZM899.5,323.0a8,8 0 1,0 16,0a8,8 0 1,0 -16,0ZM888.0,386.0a8,8 0 1,0 16,0a8,8 0 1,0 -16,0ZM889.0,378.0a8,8 0 1,0 16,0a8,8 0 1,0 -16,0ZM890.0,370.0a8,8 0 1,0 16,0a8,8 0 1,0 -16,0ZM908.8,279.4a8,8 0 1,0 16,0a8,8 0 1,0 -16,0ZM905.6,284.0a8,8 0 1,0 16,0a8,8 0 1,0 -16,0ZM926.0,221.6a8,8 0 1,0 16,0a8,8 0 1,0 -16,0ZM921.3,226.2a8,8 0 1,0 16,0a8,8 0 1,0 -16,0ZM955.6,160.6a8,8 0 1,0 16,0a8,8 0 1,0 -16,0ZM958.8,157.5a8,8 0 1,0 16,0a8,8 0 1,0 -16,0ZM996.2,137.2a8,8 0 1,0 16,0a8,8 0 1,0 -16,0ZM1004.0,135.6a8,8 0 1,0 16,0a8,8 0 1,0 -16,0ZM1041.6,168.4a8,8 0 1,0 16,0a8,8 0 1,0 -16,0ZM1046.2,174.7a8,8 0 1,0 16,0a8,8 0 1,0 -16,0ZM1069.7,234.0a8,8 0 1,0 16,0a8,8 0 1,0 -16,0ZM1072.8,241.9a8,8 0 1,0 16,0a8,8 0 1,0 -16,0ZM1085.3,290.3a8,8 0 1,0 16,0a8,8 0 1,0 -16,0ZM1088.4,296.6a8,8 0 1,0 16,0a8,8 0 1,0 -16,0ZM1091.6,324.7a8,8 0 1,0 16,0a8,8 0 1,0 -16,0ZM1097.8,340.3a8,8 0 1,0 16,0a8,8 0 1,0 -16,0ZM1099.0,338.0a8,8 0 1,0 16,0a8,8 0 1,0 -16,0ZM1096.0,342.0a8,8 0 1,0 16,0a8,8 0 1,0 -16,0ZM1100.0,341.0a8,8 0 1,0 16,0a8,8 0 1,0 -16,0ZM1107.2,321.6a8,8 0 1,0 16,0a8,8 0 1,0 -16,0ZM1115.0,291.9a8,8 0 1,0 16,0a8,8 0 1,0 -16,0Z" fill="none" stroke="#000" stroke-width="1.5"/><path d="M133.0,773.0h14.0v14.0h-14.0ZM135.0,767.0h14.0v14.0h-14.0ZM137.0,761.0h14.0v14.0h-14.0ZM139.0,755.0h14.0v14.0h-14.0ZM141.0,749.0h14.0v14.0h-14.0ZM143.0,743.0h14.0v14.0h-14.0ZM145.0,737.0h14.0v14.0h-14.0ZM147.0,732.0h14.0v14.0h-14.0ZM149.0,727.0h14.0v14.0h-14.0ZM150.5,721.0h14.0v14.0h-14.0ZM152.0,715.0h14.0v14.0h-14.0ZM153.5,710.0h14.0v14.0h-14.0ZM155.0,705.0h14.0v14.0h-14.0ZM157.0,700.5h14.0v14.0h-14.0ZM159.0,696.0h14.0v14.0h-14.0ZM163.5,693.0h14.0v14.0h-14.0ZM168.0,690.0h14.0v14.0h-14.0ZM172.5,690.0h14.0v14.0h-14.0ZM177.0,690.0h14.0v14.0h-14.0ZM185.0,692.0h14.0v14.0h-14.0ZM188.0,696.5h14.0v14.0h-14.0ZM191.0,701.0h14.0v14.0h-14.0ZM193.0,706.0h14.0v14.0h-14.0ZM195.0,711.0h14.0v14.0h-14.0ZM196.0,716.0h14.0v14.0h-14.0ZM197.0,721.0h14.0v14.0h-14.0ZM198.0,726.0h14.0v14.0h-14.0ZM199.0,731.0h14.0v14.0h-14.0ZM201.0,736.0h14.0v14.0h-14.0ZM203.0,741.0h14.0v14.0h-14.0ZM207.0,749.0h14.0v14.0h-14.0ZM209.0,753.0h14.0v14.0h-14.0ZM210.5,747.0h14.0v14.0h-14.0ZM212.0,741.0h14.0v14.0h-14.0ZM213.5,736.0h14.0v14.0h-14.0ZM215.0,731.0h14.0v14.0h-14.0ZM216.0,726.0h14.0v14.0h-14.0ZM217.0,721.0h14.0v14.0h-14.0ZM217.0,716.0h14.0v14.0h-14.0ZM217.0,711.0h14.0v14.0h-14.0ZM217.0,703.0h14.0v14.0h-14.0ZM151.0,731.0h14.0v14.0h-14.0ZM152.5,726.0h14.0v14.0h-14.0ZM154.0,721.0h14.0v14.0h-14.0ZM156.0,715.0h14.0v14.0h-14.0ZM158.0,709.0h14.0v14.0h-14.0ZM161.5,704.5h14.0v14.0h-14.0ZM165.0,700.0h14.0v14.0h-14.0ZM173.0,698.0h14.0v14.0h-14.0ZM181.0,700.0h14.0v14.0h-14.0ZM184.5,703.5h14.0v14.0h-14.0ZM188.0,707.0h14.0v14.0h-14.0ZM190.5,712.0h14.0v14.0h-14.0ZM193.0,717.0h14.0v14.0h-14.0ZM194.5,722.0h14.0v14.0h-14.0ZM196.0,727.0h14.0v14.0h-14.0ZM211.0,720.0h14.0v14.0h-14.0ZM216.0,720.0h14.0v14.0h-14.0ZM221.0,720.0h14.0v14.0h-14.0ZM219.0,710.0h14.0v14.0h-14.0ZM219.0,716.7h14.0v14.0h-14.0ZM219.0,723.3h14.0v14.0h-14.0ZM219.0,730.0h14.0v14.0h-14.0Z" fill="none" stroke="#55ffff" stroke-width="1.6" stroke-linejoin="miter" /><path d="M112.0,773.0h14.0v14.0h-14.0ZM113.0,769.3h14.0v14.0h-14.0ZM114.0,765.7h14.0v14.0h-14.0ZM115.0,762.0h14.0v14.0h-14.0ZM115.8,759.0h14.0v14.0h-14.0ZM116.5,756.0h14.0v14.0h-14.0ZM117.2,753.0h14.0v14.0h-14.0ZM118.0,750.0h14.0v14.0h-14.0ZM118.8,747.0h14.0v14.0h-14.0ZM119.5,744.0h14.0v14.0h-14.0ZM120.2,741.0h14.0v14.0h-14.0ZM121.0,738.0h14.0v14.0h-14.0ZM121.8,734.8h14.0v14.0h-14.0ZM122.5,731.5h14.0v14.0h-14.0ZM123.2,728.2h14.0v14.0h-14.0ZM124.0,725.0h14.0v14.0h-14.0ZM124.8,721.5h14.0v14.0h-14.0ZM125.5,718.0h14.0v14.0h-14.0ZM126.2,714.5h14.0v14.0h-14.0ZM127.0,711.0h14.0v14.0h-14.0ZM128.5,707.5h14.0v14.0h-14.0ZM130.0,704.0h14.0v14.0h-14.0ZM131.5,700.5h14.0v14.0h-14.0ZM133.0,697.0h14.0v14.0h-14.0ZM134.8,693.5h14.0v14.0h-14.0ZM136.5,690.0h14.0v14.0h-14.0ZM138.2,686.5h14.0v14.0h-14.0ZM140.0,683.0h14.0v14.0h-14.0ZM141.6,680.0h14.0v14.0h-14.0ZM143.2,677.0h14.0v14.0h-14.0ZM144.8,674.0h14.0v14.0h-14.0ZM146.4,671.0h14.0v14.0h-14.0ZM148.0,668.0h14.0v14.0h-14.0ZM149.8,665.2h14.0v14.0h-14.0ZM151.6,662.4h14.0v14.0h-14.0ZM153.4,659.6h14.0v14.0h-14.0ZM155.2,656.8h14.0v14.0h-14.0ZM157.0,654.0h14.0v14.0h-14.0ZM159.2,651.5h14.0v14.0h-14.0ZM161.5,649.0h14.0v14.0h-14.0ZM163.8,646.5h14.0v14.0h-14.0ZM166.0,644.0h14.0v14.0h-14.0ZM169.0,642.3h14.0v14.0h-14.0ZM172.0,640.7h14.0v14.0h-14.0ZM175.0,639.0h14.0v14.0h-14.0ZM178.3,638.0h14.0v14.0h-14.0ZM181.7,637.0h14.0v14.0h-14.0ZM185.0,636.0h14.0v14.0h-14.0ZM188.3,636.0h14.0v14.0h-14.0ZM191.7,636.0h14.0v14.0h-14.0ZM195.0,636.0h14.0v14.0h-14.0ZM198.0,637.3h14.0v14.0h-14.0ZM201.0,638.7h14.0v14.0h-14.0ZM204.0,640.0h14.0v14.0h-14.0ZM206.7,643.0h14.0v14.0h-14.0ZM209.3,646.0h14.0v14.0h-14.0ZM212.0,649.0h14.0v14.0h-14.0ZM213.8,652.0h14.0v14.0h-14.0ZM215.5,655.0h14.0v14.0h-14.0ZM217.2,658.0h14.0v14.0h-14.0ZM219.0,661.0h14.0v14.0h-14.0ZM220.5,664.0h14.0v14.0h-14.0ZM222.0,667.0h14.0v14.0h-14.0ZM223.5,670.0h14.0v14.0h-14.0ZM225.0,673.0h14.0v14.0h-14.0ZM226.2,676.0h14.0v14.0h-14.0ZM227.5,679.0h14.0v14.0h-14.0ZM228.8,682.0h14.0v14.0h-14.0ZM230.0,685.0h14.0v14.0h-14.0ZM231.0,688.2h14.0v14.0h-14.0ZM232.0,691.5h14.0v14.0h-14.0ZM233.0,694.8h14.0v14.0h-14.0ZM234.0,698.0h14.0v14.0h-14.0ZM235.0,701.2h14.0v14.0h-14.0ZM236.0,704.5h14.0v14.0h-14.0ZM237.0,707.8h14.0v14.0h-14.0ZM238.0,711.0h14.0v14.0h-14.0ZM239.0,714.0h14.0v14.0h-14.0ZM240.0,717.0h14.0v14.0h-14.0ZM241.0,720.0h14.0v14.0h-14.0ZM242.0,723.0h14.0v14.0h-14.0ZM243.0,726.0h14.0v14.0h-14.0ZM244.0,729.0h14.0v14.0h-14.0ZM245.0,732.0h14.0v14.0h-14.0ZM246.0,735.0h14.0v14.0h-14.0ZM247.5,738.0h14.0v14.0h-14.0ZM249.0,741.0h14.0v14.0h-14.0ZM250.3,738.3h14.0v14.0h-14.0ZM251.7,735.7h14.0v14.0h-14.0ZM253.0,733.0h14.0v14.0h-14.0ZM254.0,730.0h14.0v14.0h-14.0ZM255.0,727.0h14.0v14.0h-14.0ZM256.0,724.0h14.0v14.0h-14.0ZM257.0,721.0h14.0v14.0h-14.0ZM257.8,717.8h14.0v14.0h-14.0ZM258.5,714.5h14.0v14.0h-14.0ZM259.2,711.2h14.0v14.0h-14.0ZM260.0,708.0h14.0v14.0h-14.0ZM260.8,704.8h14.0v14.0h-14.0ZM261.5,701.5h14.0v14.0h-14.0ZM262.2,698.2h14.0v14.0h-14.0ZM263.0,695.0h14.0v14.0h-14.0ZM263.7,691.0h14.0v14.0h-14.0ZM264.3,687.0h14.0v14.0h-14.0ZM265.0,683.0h14.0v14.0h-14.0ZM265.7,680.0h14.0v14.0h-14.0ZM266.3,677.0h14.0v14.0h-14.0ZM267.0,674.0h14.0v14.0h-14.0ZM119.0,773.0h14.0v14.0h-14.0ZM120.0,769.7h14.0v14.0h-14.0ZM121.0,766.3h14.0v14.0h-14.0ZM122.0,763.0h14.0v14.0h-14.0ZM122.8,760.0h14.0v14.0h-14.0ZM123.5,757.0h14.0v14.0h-14.0ZM124.2,754.0h14.0v14.0h-14.0ZM125.0,751.0h14.0v14.0h-14.0ZM126.0,748.0h14.0v14.0h-14.0ZM127.0,745.0h14.0v14.0h-14.0ZM128.0,742.0h14.0v14.0h-14.0ZM129.0,739.0h14.0v14.0h-14.0ZM130.2,736.0h14.0v14.0h-14.0ZM131.5,733.0h14.0v14.0h-14.0ZM132.8,730.0h14.0v14.0h-14.0ZM134.0,727.0h14.0v14.0h-14.0ZM135.2,724.0h14.0v14.0h-14.0ZM136.5,721.0h14.0v14.0h-14.0ZM137.8,718.0h14.0v14.0h-14.0ZM139.0,715.0h14.0v14.0h-14.0ZM140.5,712.0h14.0v14.0h-14.0ZM142.0,709.0h14.0v14.0h-14.0ZM143.5,706.0h14.0v14.0h-14.0ZM145.0,703.0h14.0v14.0h-14.0ZM146.5,700.0h14.0v14.0h-14.0ZM148.0,697.0h14.0v14.0h-14.0ZM149.5,694.0h14.0v14.0h-14.0ZM151.0,691.0h14.0v14.0h-14.0ZM112.0,767.0h14.0v14.0h-14.0ZM113.0,763.3h14.0v14.0h-14.0ZM114.0,759.7h14.0v14.0h-14.0ZM115.0,756.0h14.0v14.0h-14.0ZM255.0,741.0h14.0v14.0h-14.0ZM256.0,738.0h14.0v14.0h-14.0ZM257.0,735.0h14.0v14.0h-14.0ZM258.0,732.0h14.0v14.0h-14.0ZM259.0,729.0h14.0v14.0h-14.0ZM260.0,725.5h14.0v14.0h-14.0ZM261.0,722.0h14.0v14.0h-14.0ZM262.0,718.5h14.0v14.0h-14.0ZM263.0,715.0h14.0v14.0h-14.0ZM263.8,711.5h14.0v14.0h-14.0ZM264.5,708.0h14.0v14.0h-14.0ZM265.2,704.5h14.0v14.0h-14.0ZM266.0,701.0h14.0v14.0h-14.0ZM266.5,697.8h14.0v14.0h-14.0ZM267.0,694.5h14.0v14.0h-14.0ZM267.5,691.2h14.0v14.0h-14.0ZM268.0,688.0h14.0v14.0h-14.0ZM268.7,684.7h14.0v14.0h-14.0ZM269.3,681.3h14.0v14.0h-14.0ZM270.0,678.0h14.0v14.0h-14.0ZM251.0,733.0h14.0v14.0h-14.0ZM251.8,730.0h14.0v14.0h-14.0ZM252.5,727.0h14.0v14.0h-14.0ZM253.2,724.0h14.0v14.0h-14.0ZM254.0,721.0h14.0v14.0h-14.0ZM254.8,718.0h14.0v14.0h-14.0ZM255.5,715.0h14.0v14.0h-14.0ZM256.2,712.0h14.0v14.0h-14.0ZM257.0,709.0h14.0v14.0h-14.0ZM257.7,705.0h14.0v14.0h-14.0ZM258.3,701.0h14.0v14.0h-14.0ZM259.0,697.0h14.0v14.0h-14.0ZM259.3,693.0h14.0v14.0h-14.0ZM259.7,689.0h14.0v14.0h-14.0ZM260.0,685.0h14.0v14.0h-14.0ZM260.3,681.7h14.0v14.0h-14.0ZM260.7,678.3h14.0v14.0h-14.0ZM261.0,675.0h14.0v14.0h-14.0ZM117.0,773.0h14.0v14.0h-14.0ZM120.0,773.0h14.0v14.0h-14.0ZM123.0,773.0h14.0v14.0h-14.0ZM126.0,773.0h14.0v14.0h-14.0ZM129.0,773.0h14.0v14.0h-14.0ZM159.0,661.0h14.0v14.0h-14.0ZM161.7,658.3h14.0v14.0h-14.0ZM164.3,655.7h14.0v14.0h-14.0ZM167.0,653.0h14.0v14.0h-14.0ZM170.0,651.0h14.0v14.0h-14.0ZM173.0,649.0h14.0v14.0h-14.0ZM176.0,647.0h14.0v14.0h-14.0ZM179.3,646.3h14.0v14.0h-14.0ZM182.7,645.7h14.0v14.0h-14.0ZM186.0,645.0h14.0v14.0h-14.0ZM189.3,645.0h14.0v14.0h-14.0ZM192.7,645.0h14.0v14.0h-14.0ZM196.0,645.0h14.0v14.0h-14.0ZM199.0,646.3h14.0v14.0h-14.0ZM202.0,647.7h14.0v14.0h-14.0ZM205.0,649.0h14.0v14.0h-14.0ZM207.7,651.7h14.0v14.0h-14.0ZM210.3,654.3h14.0v14.0h-14.0ZM213.0,657.0h14.0v14.0h-14.0ZM215.3,660.3h14.0v14.0h-14.0ZM217.7,663.7h14.0v14.0h-14.0ZM220.0,667.0h14.0v14.0h-14.0Z" fill="#55ffff" stroke="#55ffff" stroke-width="0.5" stroke-linejoin="miter" /><path d="M880.0,776.0a9,9 0 1,0 18,0a9,9 0 1,0 -18,0ZM880.7,773.3a9,9 0 1,0 18,0a9,9 0 1,0 -18,0ZM881.3,770.7a9,9 0 1,0 18,0a9,9 0 1,0 -18,0ZM882.0,768.0a9,9 0 1,0 18,0a9,9 0 1,0 -18,0ZM883.1,765.1a9,9 0 1,0 18,0a9,9 0 1,0 -18,0ZM884.3,762.3a9,9 0 1,0 18,0a9,9 0 1,0 -18,0ZM885.4,759.4a9,9 0 1,0 18,0a9,9 0 1,0 -18,0ZM886.6,756.6a9,9 0 1,0 18,0a9,9 0 1,0 -18,0ZM887.7,753.7a9,9 0 1,0 18,0a9,9 0 1,0 -18,0ZM888.9,750.9a9,9 0 1,0 18,0a9,9 0 1,0 -18,0ZM890.0,748.0a9,9 0 1,0 18,0a9,9 0 1,0 -18,0ZM891.1,745.1a9,9 0 1,0 18,0a9,9 0 1,0 -18,0ZM892.3,742.3a9,9 0 1,0 18,0a9,9 0 1,0 -18,0ZM893.4,739.4a9,9 0 1,0 18,0a9,9 0 1,0 -18,0ZM894.6,736.6a9,9 0 1,0 18,0a9,9 0 1,0 -18,0ZM895.7,733.7a9,9 0 1,0 18,0a9,9 0 1,0 -18,0ZM896.9,730.9a9,9 0 1,0 18,0a9,9 0 1,0 -18,0ZM898.0,728.0a9,9 0 1,0 18,0a9,9 0 1,0 -18,0ZM899.3,725.2a9,9 0 1,0 18,0a9,9 0 1,0 -18,0ZM900.7,722.3a9,9 0 1,0 18,0a9,9 0 1,0 -18,0ZM902.0,719.5a9,9 0 1,0 18,0a9,9 0 1,0 -18,0ZM903.3,716.7a9,9 0 1,0 18,0a9,9 0 1,0 -18,0ZM904.7,713.8a9,9 0 1,0 18,0a9,9 0 1,0 -18,0ZM906.0,711.0a9,9 0 1,0 18,0a9,9 0 1,0 -18,0ZM907.3,708.5a9,9 0 1,0 18,0a9,9 0 1,0 -18,0ZM908.7,706.0a9,9 0 1,0 18,0a9,9 0 1,0 -18,0ZM910.0,703.5a9,9 0 1,0 18,0a9,9 0 1,0 -18,0ZM911.3,701.0a9,9 0 1,0 18,0a9,9 0 1,0 -18,0ZM912.7,698.5a9,9 0 1,0 18,0a9,9 0 1,0 -18,0ZM914.0,696.0a9,9 0 1,0 18,0a9,9 0 1,0 -18,0ZM915.6,693.6a9,9 0 1,0 18,0a9,9 0 1,0 -18,0ZM917.2,691.2a9,9 0 1,0 18,0a9,9 0 1,0 -18,0ZM918.8,688.8a9,9 0 1,0 18,0a9,9 0 1,0 -18,0ZM920.4,686.4a9,9 0 1,0 18,0a9,9 0 1,0 -18,0ZM922.0,684.0a9,9 0 1,0 18,0a9,9 0 1,0 -18,0ZM923.6,681.8a9,9 0 1,0 18,0a9,9 0 1,0 -18,0ZM925.2,679.6a9,9 0 1,0 18,0a9,9 0 1,0 -18,0ZM926.8,677.4a9,9 0 1,0 18,0a9,9 0 1,0 -18,0ZM928.4,675.2a9,9 0 1,0 18,0a9,9 0 1,0 -18,0ZM930.0,673.0a9,9 0 1,0 18,0a9,9 0 1,0 -18,0ZM932.2,671.0a9,9 0 1,0 18,0a9,9 0 1,0 -18,0ZM934.5,669.0a9,9 0 1,0 18,0a9,9 0 1,0 -18,0ZM936.8,667.0a9,9 0 1,0 18,0a9,9 0 1,0 -18,0ZM939.0,665.0a9,9 0 1,0 18,0a9,9 0 1,0 -18,0ZM941.2,663.5a9,9 0 1,0 18,0a9,9 0 1,0 -18,0ZM943.5,662.0a9,9 0 1,0 18,0a9,9 0 1,0 -18,0ZM945.8,660.5a9,9 0 1,0 18,0a9,9 0 1,0 -18,0ZM948.0,659.0a9,9 0 1,0 18,0a9,9 0 1,0 -18,0ZM951.0,658.7a9,9 0 1,0 18,0a9,9 0 1,0 -18,0ZM954.0,658.3a9,9 0 1,0 18,0a9,9 0 1,0 -18,0ZM957.0,658.0a9,9 0 1,0 18,0a9,9 0 1,0 -18,0ZM959.7,658.7a9,9 0 1,0 18,0a9,9 0 1,0 -18,0ZM962.3,659.3a9,9 0 1,0 18,0a9,9 0 1,0 -18,0ZM965.0,660.0a9,9 0 1,0 18,0a9,9 0 1,0 -18,0ZM967.7,661.3a9,9 0 1,0 18,0a9,9 0 1,0 -18,0ZM970.3,662.7a9,9 0 1,0 18,0a9,9 0 1,0 -18,0ZM973.0,664.0a9,9 0 1,0 18,0a9,9 0 1,0 -18,0ZM975.3,665.7a9,9 0 1,0 18,0a9,9 0 1,0 -18,0ZM977.7,667.3a9,9 0 1,0 18,0a9,9 0 1,0 -18,0ZM980.0,669.0a9,9 0 1,0 18,0a9,9 0 1,0 -18,0ZM981.8,671.2a9,9 0 1,0 18,0a9,9 0 1,0 -18,0ZM983.5,673.5a9,9 0 1,0 18,0a9,9 0 1,0 -18,0ZM985.2,675.8a9,9 0 1,0 18,0a9,9 0 1,0 -18,0ZM987.0,678.0a9,9 0 1,0 18,0a9,9 0 1,0 -18,0ZM988.8,680.5a9,9 0 1,0 18,0a9,9 0 1,0 -18,0ZM990.5,683.0a9,9 0 1,0 18,0a9,9 0 1,0 -18,0ZM992.2,685.5a9,9 0 1,0 18,0a9,9 0 1,0 -18,0ZM994.0,688.0a9,9 0 1,0 18,0a9,9 0 1,0 -18,0ZM995.0,690.5a9,9 0 1,0 18,0a9,9 0 1,0 -18,0ZM996.0,693.0a9,9 0 1,0 18,0a9,9 0 1,0 -18,0ZM997.0,695.5a9,9 0 1,0 18,0a9,9 0 1,0 -18,0ZM998.0,698.0a9,9 0 1,0 18,0a9,9 0 1,0 -18,0ZM998.7,700.7a9,9 0 1,0 18,0a9,9 0 1,0 -18,0ZM999.3,703.3a9,9 0 1,0 18,0a9,9 0 1,0 -18,0ZM1000.0,706.0a9,9 0 1,0 18,0a9,9 0 1,0 -18,0ZM883.0,772.0a9,9 0 1,0 18,0a9,9 0 1,0 -18,0ZM883.8,769.2a9,9 0 1,0 18,0a9,9 0 1,0 -18,0ZM884.6,766.4a9,9 0 1,0 18,0a9,9 0 1,0 -18,0ZM885.4,763.6a9,9 0 1,0 18,0a9,9 0 1,0 -18,0ZM886.2,760.8a9,9 0 1,0 18,0a9,9 0 1,0 -18,0ZM887.0,758.0a9,9 0 1,0 18,0a9,9 0 1,0 -18,0ZM888.0,755.4a9,9 0 1,0 18,0a9,9 0 1,0 -18,0ZM889.0,752.8a9,9 0 1,0 18,0a9,9 0 1,0 -18,0ZM890.0,750.2a9,9 0 1,0 18,0a9,9 0 1,0 -18,0ZM891.0,747.6a9,9 0 1,0 18,0a9,9 0 1,0 -18,0ZM892.0,745.0a9,9 0 1,0 18,0a9,9 0 1,0 -18,0ZM893.1,742.1a9,9 0 1,0 18,0a9,9 0 1,0 -18,0ZM894.3,739.3a9,9 0 1,0 18,0a9,9 0 1,0 -18,0ZM895.4,736.4a9,9 0 1,0 18,0a9,9 0 1,0 -18,0ZM896.6,733.6a9,9 0 1,0 18,0a9,9 0 1,0 -18,0ZM897.7,730.7a9,9 0 1,0 18,0a9,9 0 1,0 -18,0ZM898.9,727.9a9,9 0 1,0 18,0a9,9 0 1,0 -18,0ZM900.0,725.0a9,9 0 1,0 18,0a9,9 0 1,0 -18,0ZM901.1,722.3a9,9 0 1,0 18,0a9,9 0 1,0 -18,0ZM902.3,719.6a9,9 0 1,0 18,0a9,9 0 1,0 -18,0ZM903.4,716.9a9,9 0 1,0 18,0a9,9 0 1,0 -18,0ZM904.6,714.1a9,9 0 1,0 18,0a9,9 0 1,0 -18,0ZM905.7,711.4a9,9 0 1,0 18,0a9,9 0 1,0 -18,0ZM906.9,708.7a9,9 0 1,0 18,0a9,9 0 1,0 -18,0ZM908.0,706.0a9,9 0 1,0 18,0a9,9 0 1,0 -18,0ZM909.3,703.5a9,9 0 1,0 18,0a9,9 0 1,0 -18,0ZM910.7,701.0a9,9 0 1,0 18,0a9,9 0 1,0 -18,0ZM912.0,698.5a9,9 0 1,0 18,0a9,9 0 1,0 -18,0ZM913.3,696.0a9,9 0 1,0 18,0a9,9 0 1,0 -18,0ZM914.7,693.5a9,9 0 1,0 18,0a9,9 0 1,0 -18,0ZM916.0,691.0a9,9 0 1,0 18,0a9,9 0 1,0 -18,0ZM917.6,688.8a9,9 0 1,0 18,0a9,9 0 1,0 -18,0ZM919.2,686.6a9,9 0 1,0 18,0a9,9 0 1,0 -18,0ZM920.8,684.4a9,9 0 1,0 18,0a9,9 0 1,0 -18,0ZM922.4,682.2a9,9 0 1,0 18,0a9,9 0 1,0 -18,0ZM924.0,680.0a9,9 0 1,0 18,0a9,9 0 1,0 -18,0ZM926.2,678.2a9,9 0 1,0 18,0a9,9 0 1,0 -18,0ZM928.5,676.5a9,9 0 1,0 18,0a9,9 0 1,0 -18,0ZM930.8,674.8a9,9 0 1,0 18,0a9,9 0 1,0 -18,0ZM933.0,673.0a9,9 0 1,0 18,0a9,9 0 1,0 -18,0ZM935.5,671.5a9,9 0 1,0 18,0a9,9 0 1,0 -18,0ZM938.0,670.0a9,9 0 1,0 18,0a9,9 0 1,0 -18,0ZM940.5,668.5a9,9 0 1,0 18,0a9,9 0 1,0 -18,0ZM943.0,667.0a9,9 0 1,0 18,0a9,9 0 1,0 -18,0ZM946.3,666.7a9,9 0 1,0 18,0a9,9 0 1,0 -18,0ZM949.7,666.3a9,9 0 1,0 18,0a9,9 0 1,0 -18,0ZM953.0,666.0a9,9 0 1,0 18,0a9,9 0 1,0 -18,0ZM956.3,667.0a9,9 0 1,0 18,0a9,9 0 1,0 -18,0ZM959.7,668.0a9,9 0 1,0 18,0a9,9 0 1,0 -18,0ZM963.0,669.0a9,9 0 1,0 18,0a9,9 0 1,0 -18,0ZM965.5,671.0a9,9 0 1,0 18,0a9,9 0 1,0 -18,0ZM968.0,673.0a9,9 0 1,0 18,0a9,9 0 1,0 -18,0ZM970.5,675.0a9,9 0 1,0 18,0a9,9 0 1,0 -18,0ZM973.0,677.0a9,9 0 1,0 18,0a9,9 0 1,0 -18,0ZM974.8,679.2a9,9 0 1,0 18,0a9,9 0 1,0 -18,0ZM976.5,681.5a9,9 0 1,0 18,0a9,9 0 1,0 -18,0ZM978.2,683.8a9,9 0 1,0 18,0a9,9 0 1,0 -18,0ZM980.0,686.0a9,9 0 1,0 18,0a9,9 0 1,0 -18,0ZM981.5,688.8a9,9 0 1,0 18,0a9,9 0 1,0 -18,0ZM983.0,691.5a9,9 0 1,0 18,0a9,9 0 1,0 -18,0ZM984.5,694.2a9,9 0 1,0 18,0a9,9 0 1,0 -18,0ZM986.0,697.0a9,9 0 1,0 18,0a9,9 0 1,0 -18,0ZM987.2,699.8a9,9 0 1,0 18,0a9,9 0 1,0 -18,0ZM988.5,702.5a9,9 0 1,0 18,0a9,9 0 1,0 -18,0ZM989.8,705.2a9,9 0 1,0 18,0a9,9 0 1,0 -18,0ZM991.0,708.0a9,9 0 1,0 18,0a9,9 0 1,0 -18,0ZM992.0,711.0a9,9 0 1,0 18,0a9,9 0 1,0 -18,0ZM993.0,714.0a9,9 0 1,0 18,0a9,9 0 1,0 -18,0ZM994.0,717.0a9,9 0 1,0 18,0a9,9 0 1,0 -18,0ZM995.0,720.0a9,9 0 1,0 18,0a9,9 0 1,0 -18,0ZM995.8,722.8a9,9 0 1,0 18,0a9,9 0 1,0 -18,0ZM996.5,725.5a9,9 0 1,0 18,0a9,9 0 1,0 -18,0ZM997.2,728.2a9,9 0 1,0 18,0a9,9 0 1,0 -18,0ZM998.0,731.0a9,9 0 1,0 18,0a9,9 0 1,0 -18,0ZM999.0,734.0a9,9 0 1,0 18,0a9,9 0 1,0 -18,0ZM1000.0,737.0a9,9 0 1,0 18,0a9,9 0 1,0 -18,0ZM1001.0,740.0a9,9 0 1,0 18,0a9,9 0 1,0 -18,0ZM1002.5,742.5a9,9 0 1,0 18,0a9,9 0 1,0 -18,0ZM1004.0,745.0a9,9 0 1,0 18,0a9,9 0 1,0 -18,0ZM998.0,700.0a9,9 0 1,0 18,0a9,9 0 1,0 -18,0ZM998.2,703.0a9,9 0 1,0 18,0a9,9 0 1,0 -18,0ZM998.5,706.0a9,9 0 1,0 18,0a9,9 0 1,0 -18,0ZM998.8,709.0a9,9 0 1,0 18,0a9,9 0 1,0 -18,0ZM999.0,712.0a9,9 0 1,0 18,0a9,9 0 1,0 -18,0ZM999.2,715.0a9,9 0 1,0 18,0a9,9 0 1,0 -18,0ZM999.5,718.0a9,9 0 1,0 18,0a9,9 0 1,0 -18,0ZM999.8,721.0a9,9 0 1,0 18,0a9,9 0 1,0 -18,0ZM1000.0,724.0a9,9 0 1,0 18,0a9,9 0 1,0 -18,0ZM1000.2,726.8a9,9 0 1,0 18,0a9,9 0 1,0 -18,0ZM1000.5,729.5a9,9 0 1,0 18,0a9,9 0 1,0 -18,0ZM1000.8,732.2a9,9 0 1,0 18,0a9,9 0 1,0 -18,0ZM1001.0,735.0a9,9 0 1,0 18,0a9,9 0 1,0 -18,0ZM1002.0,738.5a9,9 0 1,0 18,0a9,9 0 1,0 -18,0ZM1003.0,742.0a9,9 0 1,0 18,0a9,9 0 1,0 -18,0ZM1035.0,665.0a9,9 0 1,0 18,0a9,9 0 1,0 -18,0ZM1034.0,668.5a9,9 0 1,0 18,0a9,9 0 1,0 -18,0ZM1033.0,672.0a9,9 0 1,0 18,0a9,9 0 1,0 -18,0ZM1032.3,674.7a9,9 0 1,0 18,0a9,9 0 1,0 -18,0ZM1031.7,677.3a9,9 0 1,0 18,0a9,9 0 1,0 -18,0ZM1031.0,680.0a9,9 0 1,0 18,0a9,9 0 1,0 -18,0ZM1030.3,682.7a9,9 0 1,0 18,0a9,9 0 1,0 -18,0ZM1029.7,685.3a9,9 0 1,0 18,0a9,9 0 1,0 -18,0ZM1029.0,688.0a9,9 0 1,0 18,0a9,9 0 1,0 -18,0ZM1028.3,691.0a9,9 0 1,0 18,0a9,9 0 1,0 -18,0ZM1027.7,694.0a9,9 0 1,0 18,0a9,9 0 1,0 -18,0ZM1027.0,697.0a9,9 0 1,0 18,0a9,9 0 1,0 -18,0ZM1026.3,700.0a9,9 0 1,0 18,0a9,9 0 1,0 -18,0ZM1025.7,703.0a9,9 0 1,0 18,0a9,9 0 1,0 -18,0ZM1025.0,706.0a9,9 0 1,0 18,0a9,9 0 1,0 -18,0ZM1024.3,709.3a9,9 0 1,0 18,0a9,9 0 1,0 -18,0ZM1023.7,712.7a9,9 0 1,0 18,0a9,9 0 1,0 -18,0ZM1023.0,716.0a9,9 0 1,0 18,0a9,9 0 1,0 -18,0ZM1022.0,719.3a9,9 0 1,0 18,0a9,9 0 1,0 -18,0ZM1021.0,722.7a9,9 0 1,0 18,0a9,9 0 1,0 -18,0ZM1020.0,726.0a9,9 0 1,0 18,0a9,9 0 1,0 -18,0ZM1018.7,729.0a9,9 0 1,0 18,0a9,9 0 1,0 -18,0ZM1017.3,732.0a9,9 0 1,0 18,0a9,9 0 1,0 -18,0ZM1016.0,735.0a9,9 0 1,0 18,0a9,9 0 1,0 -18,0ZM1014.0,737.0a9,9 0 1,0 18,0a9,9 0 1,0 -18,0ZM1012.0,739.0a9,9 0 1,0 18,0a9,9 0 1,0 -18,0ZM1010.0,741.0a9,9 0 1,0 18,0a9,9 0 1,0 -18,0ZM1007.0,742.5a9,9 0 1,0 18,0a9,9 0 1,0 -18,0ZM1004.0,744.0a9,9 0 1,0 18,0a9,9 0 1,0 -18,0ZM1019.0,697.0a9,9 0 1,0 18,0a9,9 0 1,0 -18,0ZM1018.7,699.7a9,9 0 1,0 18,0a9,9 0 1,0 -18,0ZM1018.3,702.3a9,9 0 1,0 18,0a9,9 0 1,0 -18,0ZM1018.0,705.0a9,9 0 1,0 18,0a9,9 0 1,0 -18,0ZM1017.3,708.3a9,9 0 1,0 18,0a9,9 0 1,0 -18,0ZM1016.7,711.7a9,9 0 1,0 18,0a9,9 0 1,0 -18,0ZM1016.0,715.0a9,9 0 1,0 18,0a9,9 0 1,0 -18,0ZM1015.0,717.5a9,9 0 1,0 18,0a9,9 0 1,0 -18,0ZM1014.0,720.0a9,9 0 1,0 18,0a9,9 0 1,0 -18,0ZM1013.0,722.5a9,9 0 1,0 18,0a9,9 0 1,0 -18,0ZM1012.0,725.0a9,9 0 1,0 18,0a9,9 0 1,0 -18,0ZM1010.3,728.0a9,9 0 1,0 18,0a9,9 0 1,0 -18,0ZM1008.7,731.0a9,9 0 1,0 18,0a9,9 0 1,0 -18,0ZM1007.0,734.0a9,9 0 1,0 18,0a9,9 0 1,0 -18,0ZM1005.0,736.7a9,9 0 1,0 18,0a9,9 0 1,0 -18,0ZM1003.0,739.3a9,9 0 1,0 18,0a9,9 0 1,0 -18,0ZM1001.0,742.0a9,9 0 1,0 18,0a9,9 0 1,0 -18,0ZM983.0,690.0a9,9 0 1,0 18,0a9,9 0 1,0 -18,0ZM984.0,690.0a9,9 0 1,0 18,0a9,9 0 1,0 -18,0ZM995.0,713.0a9,9 0 1,0 18,0a9,9 0 1,0 -18,0ZM996.0,713.0a9,9 0 1,0 18,0a9,9 0 1,0 -18,0ZM1000.0,732.0a9,9 0 1,0 18,0a9,9 0 1,0 -18,0ZM1001.0,732.0a9,9 0 1,0 18,0a9,9 0 1,0 -18,0Z" fill="#000"/></g>
<g class="tl"><text x="98.3" y="24.2" text-anchor="end" textLength="32.2" lengthAdjust="spacingAndGlyphs">60</text><text x="98.3" y="151.7" text-anchor="end" textLength="32.2" lengthAdjust="spacingAndGlyphs">40</text><text x="98.3" y="279.2" text-anchor="end" textLength="32.2" lengthAdjust="spacingAndGlyphs">20</text><text x="98.3" y="406.7" text-anchor="end" textLength="32.2" lengthAdjust="spacingAndGlyphs">60</text><text x="98.3" y="534.2" text-anchor="end" textLength="32.2" lengthAdjust="spacingAndGlyphs">40</text><text x="98.3" y="661.7" text-anchor="end" textLength="32.2" lengthAdjust="spacingAndGlyphs">20</text><text x="98.3" y="789.2" text-anchor="end" textLength="16.1" lengthAdjust="spacingAndGlyphs">0</text><text x="108.5" y="814.6" text-anchor="middle" textLength="16.1" lengthAdjust="spacingAndGlyphs">0</text><text x="185.0" y="814.6" text-anchor="middle" textLength="32.2" lengthAdjust="spacingAndGlyphs">40</text><text x="261.5" y="814.6" text-anchor="middle" textLength="32.2" lengthAdjust="spacingAndGlyphs">80</text><text x="338.0" y="814.6" text-anchor="middle" textLength="48.4" lengthAdjust="spacingAndGlyphs">120</text><text x="414.5" y="814.6" text-anchor="middle" textLength="48.4" lengthAdjust="spacingAndGlyphs">160</text><text x="491.0" y="814.6" text-anchor="middle" textLength="48.4" lengthAdjust="spacingAndGlyphs">200</text><text x="567.5" y="814.6" text-anchor="middle" textLength="32.2" lengthAdjust="spacingAndGlyphs">40</text><text x="644.0" y="814.6" text-anchor="middle" textLength="32.2" lengthAdjust="spacingAndGlyphs">80</text><text x="720.5" y="814.6" text-anchor="middle" textLength="48.4" lengthAdjust="spacingAndGlyphs">120</text><text x="797.0" y="814.6" text-anchor="middle" textLength="48.4" lengthAdjust="spacingAndGlyphs">160</text><text x="873.5" y="814.6" text-anchor="middle" textLength="48.4" lengthAdjust="spacingAndGlyphs">200</text><text x="950.0" y="814.6" text-anchor="middle" textLength="32.2" lengthAdjust="spacingAndGlyphs">40</text><text x="1026.5" y="814.6" text-anchor="middle" textLength="32.2" lengthAdjust="spacingAndGlyphs">80</text><text x="1103.0" y="814.6" text-anchor="middle" textLength="48.4" lengthAdjust="spacingAndGlyphs">120</text><text x="1179.5" y="814.6" text-anchor="middle" textLength="48.4" lengthAdjust="spacingAndGlyphs">160</text><text x="1256.0" y="814.6" text-anchor="middle" textLength="48.4" lengthAdjust="spacingAndGlyphs">200</text></g>
<g><line x1="112" y1="34.8" x2="180" y2="34.8" stroke="#ff3038" stroke-width="2.6"/><path d="M146.0,28.8L152.5,40.8L139.5,40.8Z" fill="none" stroke="#ff0000" stroke-width="1.6"/><line x1="112" y1="64" x2="180" y2="64" stroke="#ff3038" stroke-width="2.6"/><path d="M145.8,57.7L151.7,68.5L140.0,68.5Z" fill="#ff0000" stroke="#ff0000" stroke-width="1"/><text x="186.64" y="43.2" font-size="23" textLength="124.31" lengthAdjust="spacingAndGlyphs">2 wt% TTSP</text><text x="186.64" y="71.6" font-size="23" textLength="248.01" lengthAdjust="spacingAndGlyphs">2 wt% VC + 2 wt% TTSP</text><line x1="500.4" y1="36.3" x2="574.6" y2="36.3" stroke="#c8ceff" stroke-width="1.2"/><path d="M537.5,29.8L544.0,36.3L537.5,42.8L531.0,36.3Z" fill="white" stroke="#1f34ff" stroke-width="1.6"/><line x1="500.4" y1="65" x2="574.6" y2="65" stroke="#c8ceff" stroke-width="1.2"/><path d="M537.5,58.0L544.5,65.0L537.5,72.0L530.5,65.0Z" fill="#1f34ff"/><text x="581.42" y="44.3" font-size="24" textLength="132.98" lengthAdjust="spacingAndGlyphs">1 wt% TTSP</text><text x="581.49" y="73" font-size="24" textLength="265.01" lengthAdjust="spacingAndGlyphs">2 wt% VC + 1 wt% TTSP</text><line x1="882.5" y1="43.7" x2="972.1" y2="43.7" stroke="#3a3a3a" stroke-width="2.6"/><circle cx="927.5" cy="43.5" r="8.1" fill="none" stroke="#333" stroke-width="1.6"/><text x="982.29" y="54.1" font-size="29" textLength="104.49" lengthAdjust="spacingAndGlyphs">Control</text><text x="883.99" y="85.4" font-size="24" textLength="160.84" lengthAdjust="spacingAndGlyphs">NMC/Graphite</text><text x="885.43" y="113.6" font-size="24" textLength="217.71" lengthAdjust="spacingAndGlyphs">Temperature: 10 °C</text><line x1="116.3" y1="418.3" x2="189" y2="418.3" stroke="#66f0f0" stroke-width="2.2"/><path d="M146.3,411.8h13.0v13.0h-13.0Z" fill="none" stroke="#55ffff" stroke-width="1.6"/><line x1="116.3" y1="448" x2="189" y2="448" stroke="#66f0f0" stroke-width="2.2"/><path d="M146.0,441.2h13.6v13.6h-13.6Z" fill="#55ffff"/><text x="197.07" y="426.3" font-size="24" textLength="131.63" lengthAdjust="spacingAndGlyphs">3 wt% TTSP</text><text x="196.79" y="455.3" font-size="24" textLength="263.91" lengthAdjust="spacingAndGlyphs">2 wt% VC + 3 wt% TTSP</text><line x1="883.5" y1="427.6" x2="974.2" y2="427.6" stroke="#8a8a8a" stroke-width="2.2"/><circle cx="928.9" cy="427.6" r="8.6" fill="#000"/><text x="983.79" y="438.2" font-size="29" textLength="130.50" lengthAdjust="spacingAndGlyphs">2 wt% VC</text></g>
<g><text x="619" y="884.7" font-size="47" class="ti">Z(<tspan class="sf" font-size="50">Ω</tspan>.cm<tspan dy="-10.3">2</tspan><tspan class="sf" dy="10.3">)</tspan></text><text transform="translate(45.2,435) rotate(-90)" x="0" y="0" font-size="47" class="ti">-Z(<tspan class="sf" font-size="50">Ω</tspan>.cm<tspan dy="-10.8">2</tspan><tspan class="sf" dy="10.8">)</tspan></text></g>
</g>
</svg>
</body></html>
